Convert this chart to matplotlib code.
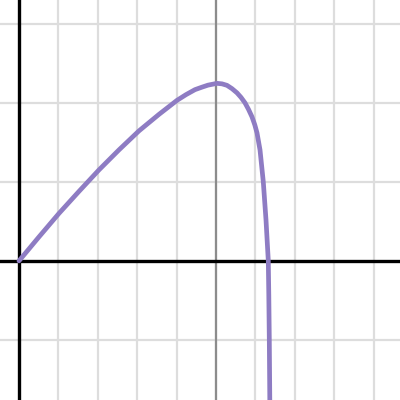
import matplotlib
matplotlib.use("Agg")
import matplotlib.pyplot as plt
import numpy as np

# points (x grid step 1, y grid step 2)
curve_x = [0, 0.5076, 1.0152, 1.5228, 2.0305, 2.5381, 3.0457, 3.5533,
           4.0102, 4.2386, 4.4670, 4.6447, 4.7970, 4.8985, 5.0254, 5.1523,
           5.2792, 5.4061, 5.5330, 5.6345, 5.7360, 5.8249, 5.9137, 5.9848,
           6.0406, 6.1168, 6.2005, 6.2690, 6.3274, 6.3401, 6.3528, 6.3655,
           6.3706]
curve_y = [0, 0.6091, 1.2056, 1.7640, 2.3096, 2.8173, 3.2995, 3.7183,
           4.0736, 4.2183, 4.3452, 4.4086, 4.4594, 4.4797, 4.5051, 4.4924,
           4.4543, 4.3706, 4.2640, 4.1497, 4.0102, 3.8452, 3.6548, 3.4518,
           3.2487, 2.8173, 2.0051, 1.0406, 0, -0.8629, -1.9797, -3.5279,
           -4.0355]

x_grid = np.arange(1, 10)
y_grid = [-2, 2, 4, 6]
marker_x = 5

fig = plt.figure(figsize=(4, 4), dpi=100)
ax = fig.add_axes([0, 0, 1, 1])
ax.set_xlim(-0.482, 9.67)
ax.set_ylim(-3.53, 6.62)

for gx in x_grid:
    ax.axvline(gx, color='#dddddd', lw=1.6, zorder=1)
for gy in y_grid:
    ax.axhline(gy, color='#dddddd', lw=1.6, zorder=1)
ax.axvline(marker_x, color='#8c8c8c', lw=1.6, zorder=2)
ax.axhline(0, color='black', lw=2.4, zorder=3)
ax.axvline(0, color='black', lw=2.4, zorder=3)

ax.plot(curve_x, curve_y, color='#8e7cc3', lw=3.4, zorder=4,
        solid_joinstyle='round', solid_capstyle='round')

ax.set_xticks([])
ax.set_yticks([])
for s in ax.spines.values():
    s.set_visible(False)

fig.savefig('out.png', dpi=100)
